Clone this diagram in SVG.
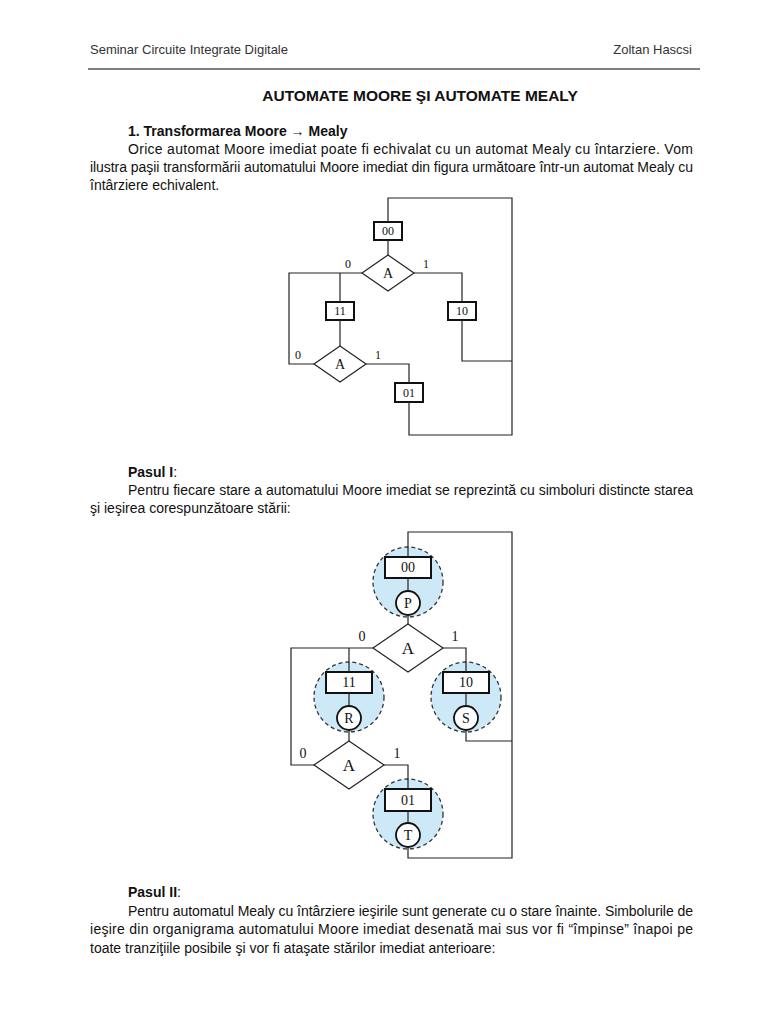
<svg xmlns="http://www.w3.org/2000/svg" width="768" height="1024" viewBox="0 0 768 1024">
<style>
.hdr{font-family:"Liberation Sans",Arial,sans-serif;font-size:13px;fill:#333}
.tx{font-family:"Liberation Sans",Arial,sans-serif;font-size:14px;fill:#111}
.b{font-weight:bold}
.ln{fill:none;stroke:#222;stroke-width:1.2}
.box{fill:#fff;stroke:#111;stroke-width:2}
.dia{fill:#fff;stroke:#222;stroke-width:1.2}
.s1{font-family:"Liberation Serif","Times New Roman",serif;font-size:12px;fill:#111;text-anchor:middle}
.s2{font-family:"Liberation Serif","Times New Roman",serif;font-size:14px;fill:#111;text-anchor:middle}
.a1{font-family:"Liberation Serif","Times New Roman",serif;font-size:14px;fill:#111;text-anchor:middle}
.a2{font-family:"Liberation Serif","Times New Roman",serif;font-size:17px;fill:#111;text-anchor:middle}
.zone{fill:#cde9f8;stroke:#333;stroke-width:1.3;stroke-dasharray:4 3}
.out{fill:#fff;stroke:#111;stroke-width:1.8}
</style>
<rect width="768" height="1024" fill="#fff"/>
<g id="header">
<text class="hdr" x="90" y="54">Seminar Circuite Integrate Digitale</text>
<text class="hdr" x="692" y="54" text-anchor="end">Zoltan Hascsi</text>
<line x1="88" y1="69" x2="700" y2="69" stroke="#555" stroke-width="1.6"/>
</g>
<g id="text">
<text class="tx b" x="420" y="101" text-anchor="middle" style="font-size:15.5px">AUTOMATE MOORE ŞI AUTOMATE MEALY</text>
<text class="tx b" x="128" y="136">1. Transformarea Moore → Mealy</text>
<text class="tx" x="128" y="154" textLength="565" lengthAdjust="spacing">Orice automat Moore imediat poate fi echivalat cu un automat Mealy cu întarziere. Vom</text>
<text class="tx" x="90" y="172" textLength="603" lengthAdjust="spacing">ilustra paşii transformării automatului Moore imediat din figura următoare într-un automat Mealy cu</text>
<text class="tx" x="90" y="190">întârziere echivalent.</text>
<text class="tx" x="128" y="477"><tspan class="b">Pasul I</tspan>:</text>
<text class="tx" x="128" y="495" textLength="565" lengthAdjust="spacing">Pentru fiecare stare a automatului Moore imediat se reprezintă cu simboluri distincte starea</text>
<text class="tx" x="90" y="513">şi ieşirea corespunzătoare stării:</text>
<text class="tx" x="128" y="897"><tspan class="b">Pasul II</tspan>:</text>
<text class="tx" x="128" y="916" textLength="565" lengthAdjust="spacing">Pentru automatul Mealy cu întârziere ieşirile sunt generate cu o stare înainte. Simbolurile de</text>
<text class="tx" x="90" y="934" textLength="603" lengthAdjust="spacing">ieşire din organigrama automatului Moore imediat desenată mai sus vor fi “împinse” înapoi pe</text>
<text class="tx" x="90" y="953">toate tranziţiile posibile şi vor fi ataşate stărilor imediat anterioare:</text>
</g>
<g id="d1-s00"><rect class="box" x="374" y="222" width="28" height="18"/><text class="s1" x="388" y="235">00</text></g>
<g id="d1-a1"><polygon class="dia" points="388,255 414,273 388,291 362,273"/><text class="a1" x="388" y="278">A</text></g>
<g id="d1-s11"><rect class="box" x="326" y="302" width="28" height="18"/><text class="s1" x="340" y="315">11</text></g>
<g id="d1-s10"><rect class="box" x="448" y="302" width="28" height="18"/><text class="s1" x="462" y="315">10</text></g>
<g id="d1-a2"><polygon class="dia" points="340,346 366,364 340,382 314,364"/><text class="a1" x="340" y="369">A</text></g>
<g id="d1-s01"><rect class="box" x="395" y="383" width="28" height="19"/><text class="s1" x="409" y="397">01</text></g>
<g id="d1-connectors">
<path class="ln" d="M388,222 V198 H512 V435 H409 V402"/>
<path class="ln" d="M388,240 V255"/>
<path class="ln" d="M362,273 H289 V364 H314"/>
<path class="ln" d="M340,273 V302"/>
<path class="ln" d="M414,273 H462 V302"/>
<path class="ln" d="M340,320 V346"/>
<path class="ln" d="M462,320 V361 H512"/>
<path class="ln" d="M366,364 H409 V383"/>
<text class="s1" x="348" y="268">0</text>
<text class="s1" x="426" y="268">1</text>
<text class="s1" x="298" y="359">0</text>
<text class="s1" x="378" y="359">1</text>
</g>
<g id="d2-s00"><circle class="zone" cx="408" cy="582" r="35"/><rect class="box" x="385" y="557" width="46" height="21"/><text class="s2" x="408" y="572">00</text><circle class="out" cx="408" cy="603" r="12"/><text class="s2" x="408" y="608">P</text></g>
<g id="d2-a1"><polygon class="dia" points="408,624 443,648 408,672 373,648"/><text class="a2" x="408" y="654">A</text></g>
<g id="d2-s11"><circle class="zone" cx="349" cy="697" r="35"/><rect class="box" x="326" y="672" width="46" height="21"/><text class="s2" x="349" y="687">11</text><circle class="out" cx="349" cy="718" r="12"/><text class="s2" x="349" y="723">R</text></g>
<g id="d2-s10"><circle class="zone" cx="466" cy="697" r="35"/><rect class="box" x="443" y="672" width="46" height="21"/><text class="s2" x="466" y="687">10</text><circle class="out" cx="466" cy="718" r="12"/><text class="s2" x="466" y="723">S</text></g>
<g id="d2-a2"><polygon class="dia" points="349,741 384,765 349,789 314,765"/><text class="a2" x="349" y="771">A</text></g>
<g id="d2-s01"><circle class="zone" cx="408" cy="814" r="35"/><rect class="box" x="385" y="789" width="46" height="22"/><text class="s2" x="408" y="805">01</text><circle class="out" cx="408" cy="835" r="12"/><text class="s2" x="408" y="840">T</text></g>
<g id="d2-connectors">
<path class="ln" d="M408,557 V532 H512 V858 H408 V847"/>
<path class="ln" d="M408,578 V591"/>
<path class="ln" d="M408,615 V624"/>
<path class="ln" d="M373,648 H291 V765 H314"/>
<path class="ln" d="M349,648 V672"/>
<path class="ln" d="M443,648 H466 V672"/>
<path class="ln" d="M349,693 V706"/>
<path class="ln" d="M466,693 V706"/>
<path class="ln" d="M349,730 V741"/>
<path class="ln" d="M466,730 V741 H512"/>
<path class="ln" d="M384,765 H408 V789"/>
<path class="ln" d="M408,811 V823"/>
<text class="s2" x="362" y="641">0</text>
<text class="s2" x="455" y="641">1</text>
<text class="s2" x="303" y="758">0</text>
<text class="s2" x="397" y="758">1</text>
</g>
</svg>
